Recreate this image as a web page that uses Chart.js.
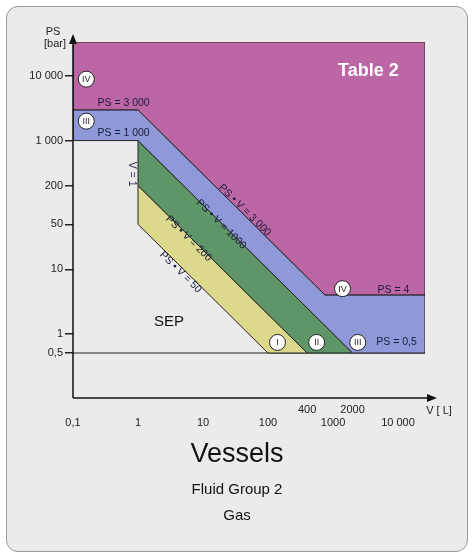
<!DOCTYPE html>
<html>
<head>
<meta charset="utf-8">
<script src="https://cdn.jsdelivr.net/npm/chart.js@4"></script>
<style>
  body { margin: 0; background: #fff; font-family: "Liberation Sans", Arial, sans-serif; }
  #frame { position: absolute; left: 6px; top: 6px; width: 460px; height: 544px; border: 1px solid #999; border-radius: 12px; background: #ebebeb; }
  #wrap { position: absolute; left: 0; top: 0; width: 474px; height: 558px; }
  .t { position: absolute; left: 0; width: 474px; text-align: center; color: #111; }
</style>
</head>
<body>
<div id="frame"></div>
<div id="wrap"><canvas id="c" width="474" height="558"></canvas></div>
<div class="t" style="top:438px;font-size:27px;">Vessels</div>
<div class="t" style="top:480px;font-size:15px;">Fluid Group 2</div>
<div class="t" style="top:506px;font-size:15px;">Gas</div>
<script>
// axis ranges (V in litres, PS in bar)
const xMin = 0.1, xMax = 26000;
const yMin = 0.1, yMax = 34000;
const xTicks = [0.1, 1, 10, 100, 400, 1000, 2000, 10000];
const xTickLabels = {0.1: '0,1', 1: '1', 10: '10', 100: '100', 400: '400', 1000: '1000', 2000: '2000', 10000: '10 000'};
const xRaised = [400, 2000];
const yTicks = [0.5, 1, 10, 50, 200, 1000, 10000];
const yTickLabels = {0.5: '0,5', 1: '1', 10: '10', 50: '50', 200: '200', 1000: '1 000', 10000: '10 000'};

// category regions as polygons [V, PS]
const catIV  = [[0.1, 3000], [1, 3000], [750, 4], [xMax, 4], [xMax, yMax], [0.1, yMax]];
const catIII = [[0.1, 1000], [1, 1000], [2000, 0.5], [xMax, 0.5], [xMax, 4], [750, 4], [1, 3000], [0.1, 3000]];
const catII  = [[1, 1000], [2000, 0.5], [400, 0.5], [1, 200]];
const catI   = [[1, 200], [400, 0.5], [100, 0.5], [1, 50]];
const sepLine = [[0.1, 0.5], [xMax, 0.5]];

// markers and labels: [V, PS, text]
const circles = [[0.16, 9000, 'IV'], [0.16, 2000, 'III'], [1400, 5, 'IV'], [140, 0.73, 'I'], [560, 0.73, 'II'], [2400, 0.73, 'III']];
const flatLabels = [[0.6, 3800, 'PS = 3 000'], [0.6, 1300, 'PS = 1 000'], [8500, 4.8, 'PS = 4'], [9500, 0.73, 'PS = 0,5']];
const slopeLabels = [[44, 83, 'PS • V = 3 000'], [19, 50, 'PS • V = 1000'], [6, 30, 'PS • V = 200'], [4.5, 9, 'PS • V = 50']];

const poly = (pts, color) => ({
  data: pts.map(p => ({x: p[0], y: p[1]})).concat([{x: pts[0][0], y: pts[0][1]}]),
  showLine: true, fill: 'shape', backgroundColor: color,
  borderColor: '#222', borderWidth: 1, pointRadius: 0, tension: 0
});

const labels = {
  id: 'labels',
  afterDatasetsDraw(chart) {
    const ctx = chart.ctx, xs = chart.scales.x, ys = chart.scales.y;
    const px = v => xs.getPixelForValue(v), py = v => ys.getPixelForValue(v);
    const l = chart.chartArea.left, b = chart.chartArea.bottom, t = chart.chartArea.top, r = chart.chartArea.right;
    ctx.save();
    ctx.textAlign = 'center'; ctx.textBaseline = 'middle';
    ctx.fillStyle = '#fff'; ctx.font = 'bold 18px "Liberation Sans"';
    ctx.fillText('Table 2', px(3500), py(12000));
    ctx.fillStyle = '#111'; ctx.font = '15px "Liberation Sans"';
    ctx.fillText('SEP', px(3), py(1.5));
    ctx.font = '10.5px "Liberation Sans"'; ctx.fillStyle = '#1a1a3a';
    flatLabels.forEach(f => ctx.fillText(f[2], px(f[0]), py(f[1])));
    const ang = Math.atan2(py(1) - py(10), px(10) - px(1));
    slopeLabels.forEach(s => {
      ctx.save(); ctx.translate(px(s[0]), py(s[1])); ctx.rotate(ang);
      ctx.fillText(s[2], 0, 0); ctx.restore();
    });
    ctx.save(); ctx.translate(px(0.8), py(300)); ctx.rotate(Math.PI / 2);
    ctx.fillText('V = 1', 0, 0); ctx.restore();
    circles.forEach(c => {
      ctx.beginPath(); ctx.arc(px(c[0]), py(c[1]), 8, 0, Math.PI * 2);
      ctx.fillStyle = '#fff'; ctx.fill(); ctx.strokeStyle = '#222'; ctx.lineWidth = 1; ctx.stroke();
      ctx.fillStyle = '#222'; ctx.font = '9px "Liberation Sans"';
      ctx.fillText(c[2], px(c[0]), py(c[1]) + 0.5);
    });
    // x tick labels, two rows
    ctx.font = '11px "Liberation Sans"'; ctx.fillStyle = '#222';
    xTicks.forEach(v => ctx.fillText(xTickLabels[v], px(v), b + (xRaised.includes(v) ? 12 : 25)));
    // axes with arrows
    ctx.strokeStyle = '#111'; ctx.fillStyle = '#111'; ctx.lineWidth = 1.5;
    ctx.beginPath(); ctx.moveTo(l, b); ctx.lineTo(l, t - 2); ctx.moveTo(l, b); ctx.lineTo(r + 6, b); ctx.stroke();
    ctx.beginPath(); ctx.moveTo(l, t - 8); ctx.lineTo(l - 4, t + 2); ctx.lineTo(l + 4, t + 2); ctx.fill();
    ctx.beginPath(); ctx.moveTo(r + 12, b); ctx.lineTo(r + 2, b - 4); ctx.lineTo(r + 2, b + 4); ctx.fill();
    ctx.font = '11px "Liberation Sans"'; ctx.fillStyle = '#222';
    ctx.fillText('PS', l - 20, t - 10); ctx.fillText('[bar]', l - 18, t + 2);
    ctx.fillText('V [ L]', r + 14, b + 13);
    ctx.restore();
  }
};

new Chart(document.getElementById('c'), {
  type: 'scatter',
  data: { datasets: [
    poly(catIV, '#bd66a6'), poly(catIII, '#8f98d8'), poly(catII, '#5f9668'), poly(catI, '#dcd98c'),
    { data: sepLine.map(p => ({x: p[0], y: p[1]})), showLine: true, borderColor: '#222', borderWidth: 1, pointRadius: 0 }
  ]},
  options: {
    responsive: false, animation: false,
    layout: { padding: { top: 42, right: 49, left: 0, bottom: 0 } },
    plugins: { legend: { display: false }, tooltip: { enabled: false } },
    scales: {
      x: {
        type: 'logarithmic', min: xMin, max: xMax,
        afterBuildTicks: s => { s.ticks = xTicks.map(v => ({value: v})); },
        afterFit: s => { s.height = 160; },
        ticks: { display: false },
        grid: { display: false }, border: { display: false }
      },
      y: {
        type: 'logarithmic', min: yMin, max: yMax,
        afterBuildTicks: s => { s.ticks = yTicks.map(v => ({value: v})); },
        afterFit: s => { s.width = 73; },
        ticks: { callback: v => yTickLabels[v], color: '#222', font: { size: 11, family: 'Liberation Sans' }, autoSkip: false, padding: 2 },
        grid: { display: true, drawOnChartArea: false, drawTicks: true, tickLength: 8, color: '#222', lineWidth: 1.5 }, border: { display: false }
      }
    }
  },
  plugins: [labels]
});
</script>
</body>
</html>
